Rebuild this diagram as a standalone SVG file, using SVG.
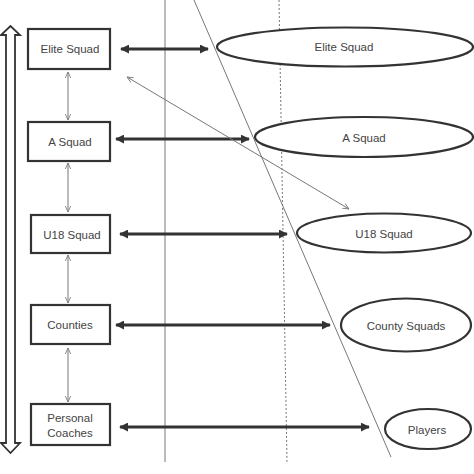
<svg xmlns="http://www.w3.org/2000/svg" width="474" height="474" viewBox="0 0 474 474">
<style>
.box{fill:#fff;stroke:#333;stroke-width:2.2}
.ell{fill:#fff;stroke:#333;stroke-width:2.2}
.t{font-family:"Liberation Sans",Arial,sans-serif;font-size:11.5px;fill:#444;text-anchor:middle}
.thick{stroke:#333;stroke-width:3;fill:none}
.thin{stroke:#777;stroke-width:1;fill:none}
.guide{stroke:#777;stroke-width:1;fill:none}
</style>
<defs>
<marker id="hb" viewBox="0 0 10 10" refX="9" refY="5" markerWidth="3" markerHeight="3" orient="auto-start-reverse" markerUnits="strokeWidth">
<path d="M0,0 L10,5 L0,10 Z" fill="#333"/>
</marker>
<marker id="ho" viewBox="0 0 10 10" refX="9" refY="5" markerWidth="7" markerHeight="7" orient="auto-start-reverse" markerUnits="strokeWidth">
<path d="M0,1 L9,5 L0,9" fill="none" stroke="#777" stroke-width="1.2"/>
</marker>
</defs>
<rect width="474" height="474" fill="#fff"/>
<g id="guides">
<line class="guide" x1="165" y1="0" x2="165" y2="462"/>
<line class="guide" x1="279" y1="0" x2="287" y2="462" stroke-dasharray="2,2"/>
<line class="guide" x1="194" y1="0" x2="391" y2="457"/>
</g>
<g id="connectors">
<path d="M6,443 L6,35 L1,35 L10.5,26 L20,35 L15,35 L15,443 L20,443 L10.5,453 L1,443 Z" fill="#fff" stroke="#333" stroke-width="1.8" stroke-linejoin="miter"/>
<line class="thick" x1="121" y1="49" x2="208" y2="49" marker-start="url(#hb)" marker-end="url(#hb)"/>
<line class="thick" x1="116" y1="139" x2="249" y2="139" marker-start="url(#hb)" marker-end="url(#hb)"/>
<line class="thick" x1="120" y1="234" x2="287" y2="234" marker-start="url(#hb)" marker-end="url(#hb)"/>
<line class="thick" x1="116" y1="325" x2="330" y2="325" marker-start="url(#hb)" marker-end="url(#hb)"/>
<line class="thick" x1="120" y1="427" x2="369" y2="427" marker-start="url(#hb)" marker-end="url(#hb)"/>
<line class="thin" x1="68" y1="72" x2="68" y2="120" marker-start="url(#ho)" marker-end="url(#ho)"/>
<line class="thin" x1="68" y1="163" x2="68" y2="212" marker-start="url(#ho)" marker-end="url(#ho)"/>
<line class="thin" x1="68" y1="255" x2="68" y2="303" marker-start="url(#ho)" marker-end="url(#ho)"/>
<line class="thin" x1="68" y1="348" x2="68" y2="402" marker-start="url(#ho)" marker-end="url(#ho)"/>
<line class="thin" x1="127" y1="77" x2="349" y2="209" marker-start="url(#ho)" marker-end="url(#ho)"/>
</g>
<g id="box-elite"><rect class="box" x="28" y="29" width="82" height="40"/><text class="t" x="70" y="53">Elite Squad</text></g>
<g id="box-a"><rect class="box" x="28" y="122" width="82" height="39"/><text class="t" x="70" y="146">A Squad</text></g>
<g id="box-u18"><rect class="box" x="31" y="215" width="79" height="38"/><text class="t" x="72" y="239">U18 Squad</text></g>
<g id="box-counties"><rect class="box" x="31" y="305" width="79" height="39"/><text class="t" x="70" y="329">Counties</text></g>
<g id="box-coaches"><rect class="box" x="31" y="404" width="79" height="41"/><text class="t" x="70" y="422">Personal</text><text class="t" x="70" y="437">Coaches</text></g>
<g id="ell-elite"><ellipse class="ell" cx="345" cy="47" rx="128" ry="19.5"/><text class="t" x="344" y="51">Elite Squad</text></g>
<g id="ell-a"><ellipse class="ell" cx="364" cy="137" rx="109" ry="20"/><text class="t" x="364" y="142">A Squad</text></g>
<g id="ell-u18"><ellipse class="ell" cx="384" cy="233" rx="87" ry="19.5"/><text class="t" x="384" y="238">U18 Squad</text></g>
<g id="ell-county"><ellipse class="ell" cx="406" cy="325" rx="65" ry="26.5"/><text class="t" x="406" y="330">County Squads</text></g>
<g id="ell-players"><ellipse class="ell" cx="428" cy="429" rx="43" ry="20"/><text class="t" x="427" y="434">Players</text></g>
</svg>
